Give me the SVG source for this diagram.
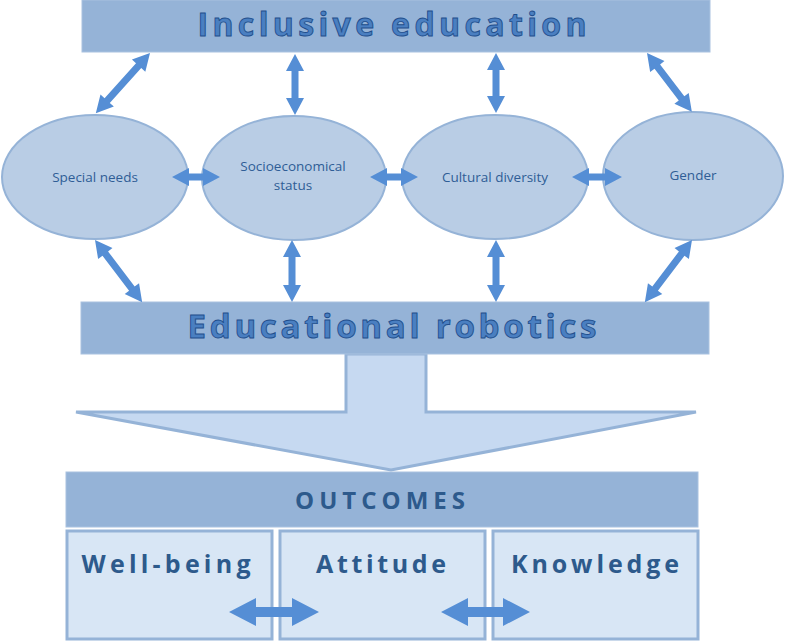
<svg xmlns="http://www.w3.org/2000/svg" width="785" height="641" viewBox="0 0 785 641">
<style>
.band{fill:#95b3d7;stroke:#a9c2e0;stroke-width:1}
.ell{fill:#b9cde5;stroke:#95b3d7;stroke-width:2}
.box{fill:#d8e6f5;stroke:#95b3d7;stroke-width:3}
.big{fill:#c6d9f1;stroke:#95b3d7;stroke-width:3}
.arr{fill:#558ed5}
.title{font-family:"Open Sans","Liberation Sans",sans-serif;font-weight:bold;fill:#4a7fc1;stroke:#1f4e8c;stroke-width:0.9;text-anchor:middle}
.small{font-family:"Open Sans","Liberation Sans",sans-serif;font-size:13.5px;fill:#2f5d96;text-anchor:middle}
.out{font-family:"Open Sans","Liberation Sans",sans-serif;font-weight:bold;fill:#2d5a8c;text-anchor:middle}
</style>
<rect width="785" height="641" fill="#ffffff"/>
<g id="inclusive-education">
<rect class="band" x="82" y="0" width="628" height="52"/>
<text class="title" x="392" y="36" font-size="32" textLength="389" lengthAdjust="spacing">Inclusive education</text>
</g>
<g id="special-needs">
<ellipse class="ell" cx="95" cy="177" rx="93" ry="62"/>
<text class="small" x="95" y="182">Special needs</text>
</g>
<g id="socioeconomical-status">
<ellipse class="ell" cx="294" cy="178" rx="92" ry="62"/>
<text class="small" x="293" y="171" font-size="13">Socioeconomical</text>
<text class="small" x="293" y="190" font-size="13">status</text>
</g>
<g id="cultural-diversity">
<ellipse class="ell" cx="495" cy="177" rx="93" ry="62"/>
<text class="small" x="495" y="182">Cultural diversity</text>
</g>
<g id="gender">
<ellipse class="ell" cx="693" cy="176" rx="90" ry="64"/>
<text class="small" x="693" y="180">Gender</text>
</g>
<g id="big-arrow">
<path class="big" d="M346,354 L426,354 L426,412 L696,412 L391,470 L76,412 L346,412 Z"/>
</g>
<g id="educational-robotics">
<rect class="band" x="81" y="302" width="628" height="52"/>
<text class="title" x="392" y="338" font-size="33" textLength="409" lengthAdjust="spacing">Educational robotics</text>
</g>
<g id="outcomes">
<rect class="band" x="66" y="472" width="632" height="55"/>
<text class="out" x="380" y="509" font-size="24" textLength="170" lengthAdjust="spacing">OUTCOMES</text>
</g>
<g id="well-being">
<rect class="box" x="67" y="531" width="205" height="108"/>
<text class="out" x="166" y="573" font-size="25" textLength="169" lengthAdjust="spacing">Well-being</text>
</g>
<g id="attitude">
<rect class="box" x="280" y="531" width="205" height="108"/>
<text class="out" x="381" y="573" font-size="25" textLength="130" lengthAdjust="spacing">Attitude</text>
</g>
<g id="knowledge">
<rect class="box" x="493" y="531" width="205" height="108"/>
<text class="out" x="595" y="573" font-size="25" textLength="168" lengthAdjust="spacing">Knowledge</text>
</g>
<g id="connectors">
<path class="arr" transform="translate(150,53) rotate(132)" d="M0,0 L17,-9 L17,-3.5 L64,-3.5 L64,-9 L81,0 L64,9 L64,3.5 L17,3.5 L17,9 Z"/>
<path class="arr" transform="translate(295,54) rotate(90)" d="M0,0 L17,-9 L17,-3.5 L44,-3.5 L44,-9 L61,0 L44,9 L44,3.5 L17,3.5 L17,9 Z"/>
<path class="arr" transform="translate(496,53) rotate(90)" d="M0,0 L17,-9 L17,-3.5 L43,-3.5 L43,-9 L60,0 L43,9 L43,3.5 L17,3.5 L17,9 Z"/>
<path class="arr" transform="translate(647,53) rotate(52.7)" d="M0,0 L17,-9 L17,-3.5 L57,-3.5 L57,-9 L74,0 L57,9 L57,3.5 L17,3.5 L17,9 Z"/>
<path class="arr" transform="translate(172,177)" d="M0,0 L17,-9 L17,-3.5 L31,-3.5 L31,-9 L48,0 L31,9 L31,3.5 L17,3.5 L17,9 Z"/>
<path class="arr" transform="translate(370,177)" d="M0,0 L17,-9 L17,-3.5 L31,-3.5 L31,-9 L48,0 L31,9 L31,3.5 L17,3.5 L17,9 Z"/>
<path class="arr" transform="translate(572,177)" d="M0,0 L17,-9 L17,-3.5 L33,-3.5 L33,-9 L50,0 L33,9 L33,3.5 L17,3.5 L17,9 Z"/>
<path class="arr" transform="translate(95,240) rotate(52.8)" d="M0,0 L17,-9 L17,-3.5 L61,-3.5 L61,-9 L78,0 L61,9 L61,3.5 L17,3.5 L17,9 Z"/>
<path class="arr" transform="translate(292,240) rotate(90)" d="M0,0 L17,-9 L17,-3.5 L45,-3.5 L45,-9 L62,0 L45,9 L45,3.5 L17,3.5 L17,9 Z"/>
<path class="arr" transform="translate(496,240) rotate(90)" d="M0,0 L17,-9 L17,-3.5 L45,-3.5 L45,-9 L62,0 L45,9 L45,3.5 L17,3.5 L17,9 Z"/>
<path class="arr" transform="translate(692,240) rotate(127.2)" d="M0,0 L17,-9 L17,-3.5 L61,-3.5 L61,-9 L78,0 L61,9 L61,3.5 L17,3.5 L17,9 Z"/>
<path class="arr" transform="translate(229,612)" d="M0,0 L27,-14 L27,-5 L63,-5 L63,-14 L90,0 L63,14 L63,5 L27,5 L27,14 Z"/>
<path class="arr" transform="translate(441,612)" d="M0,0 L27,-14 L27,-5 L62,-5 L62,-14 L89,0 L62,14 L62,5 L27,5 L27,14 Z"/>
</g>
</svg>
